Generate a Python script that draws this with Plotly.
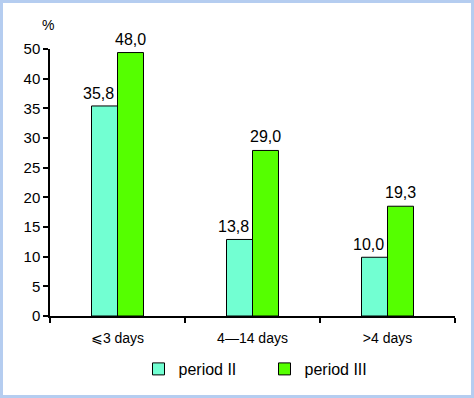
import plotly.graph_objects as go

categories = ["⩽3 days", "4—14 days", ">4 days"]
# bar heights as drawn in the picture (on the chart's own y scale)
period2_values = [35.4, 12.9, 9.9]
period3_values = [44.4, 27.9, 18.5]
# value labels printed above the bars
period2_labels = ["35,8", "13,8", "10,0"]
period3_labels = ["48,0", "29,0", "19,3"]
y_tickvals = [0, 5, 10, 15, 20, 25, 30, 35, 40, 45]
y_ticktext = ["0", "5", "10", "15", "20", "25", "30", "35", "40", "50"]

FONT = "Liberation Sans, Arial, sans-serif"
W, H = 474, 398
ML, MR, MT, MB = 50, 19, 49, 82
PW, PH = W - ML - MR, H - MT - MB


def px_x(px):
    return (px - ML) / PW


def px_y(py):
    return (H - MB - py) / PH


fig = go.Figure()
fig.add_trace(go.Bar(
    name="period II", x=categories, y=period2_values,
    marker=dict(color="#72ffd2", line=dict(color="#000000", width=1)),
))
fig.add_trace(go.Bar(
    name="period III", x=categories, y=period3_values,
    marker=dict(color="#55ff00", line=dict(color="#000000", width=1)),
))

annotations = [dict(text="%", xref="paper", yref="paper",
                    x=px_x(47.5), y=px_y(25), showarrow=False,
                    xanchor="center", yanchor="middle",
                    font=dict(size=14, family=FONT))]
for cat, v, lab in zip(categories, period2_values, period2_labels):
    annotations.append(dict(x=cat, y=v, text=lab, showarrow=False, xref="x", yref="y",
                            xanchor="center", yanchor="bottom", xshift=-19, yshift=2,
                            font=dict(size=16, family=FONT, color="#000000")))
for cat, v, lab in zip(categories, period3_values, period3_labels):
    annotations.append(dict(x=cat, y=v, text=lab, showarrow=False, xref="x", yref="y",
                            xanchor="center", yanchor="bottom", xshift=13, yshift=3,
                            font=dict(size=16, family=FONT, color="#000000")))

fig.update_layout(
    width=W, height=H,
    margin=dict(l=ML, r=MR, t=MT, b=MB),
    paper_bgcolor="#b5cdf0",
    plot_bgcolor="#ffffff",
    barmode="group", bargap=0.615, bargroupgap=0,
    font=dict(family=FONT, size=14, color="#000000"),
    showlegend=True,
    legend=dict(orientation="h", x=px_x(138.5), xanchor="left", y=px_y(369), yanchor="middle",
                font=dict(size=16, family=FONT), itemwidth=30, bgcolor="rgba(0,0,0,0)",
                entrywidth=81, entrywidthmode="pixels", traceorder="normal"),
    shapes=[dict(type="rect", xref="paper", yref="paper", layer="below",
                 x0=px_x(3), x1=px_x(W - 3), y0=px_y(H - 3), y1=px_y(3),
                 fillcolor="#ffffff", line=dict(width=0))],
    annotations=annotations,
)
fig.update_xaxes(showline=True, linecolor="#000000", linewidth=1.5,
                 ticks="outside", tickson="boundaries", ticklen=5,
                 tickcolor="#000000", tickwidth=1.5, showgrid=False,
                 ticklabelstandoff=8,
                 tickfont=dict(size=14, family=FONT))
fig.update_yaxes(range=[0, 45], showline=True, linecolor="#000000", linewidth=1.5,
                 ticks="outside", ticklen=5, tickcolor="#000000", tickwidth=1.5,
                 tickvals=y_tickvals, ticktext=y_ticktext, showgrid=False,
                 zeroline=False, tickfont=dict(size=15, family=FONT))

fig.write_html("out.html", config={"displayModeBar": False})

with open("out.html", "r", encoding="utf-8") as f:
    html = f.read()
html = html.replace("<head>", "<head><style>html,body{margin:0;padding:0;overflow:hidden}</style>", 1)
with open("out.html", "w", encoding="utf-8") as f:
    f.write(html)
